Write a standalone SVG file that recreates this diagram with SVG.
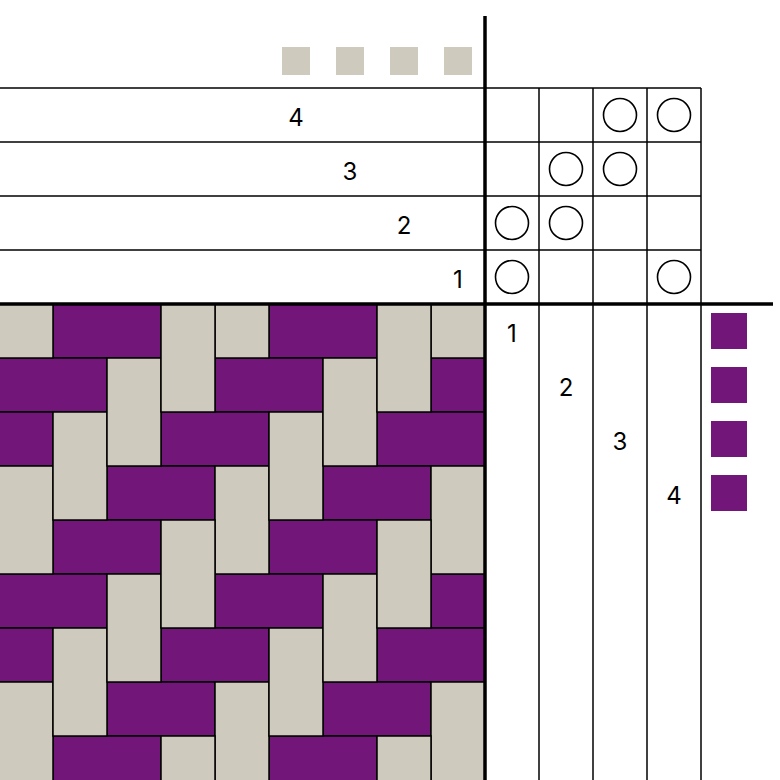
<svg xmlns="http://www.w3.org/2000/svg" width="780" height="780" viewBox="0 0 780 780">
<style>
.bg{fill:#ffffff}
.ln{stroke:#000;stroke-width:1.5;fill:none}
.thick{stroke:#000;stroke-width:3.5;fill:none}
.p{fill:#72167a;stroke:#000;stroke-width:1.5}
.g{fill:#cecabd;stroke:#000;stroke-width:1.5}
.ps{fill:#72167a}
.gs{fill:#cecabd}
.c{fill:none;stroke:#000;stroke-width:1.6}
.t{font-family:Inter,"Liberation Sans",Arial,sans-serif;font-size:24px;fill:#000;text-anchor:middle}
</style>
<rect class="bg" x="0" y="0" width="780" height="780"/>
<g id="drawdown">
<g id="weft-floats">
<rect class="p" x="53" y="304" width="108" height="54"/><rect class="p" x="269" y="304" width="108" height="54"/>
<rect class="p" x="-1" y="358" width="108" height="54"/><rect class="p" x="215" y="358" width="108" height="54"/><rect class="p" x="431" y="358" width="54" height="54"/>
<rect class="p" x="-1" y="412" width="54" height="54"/><rect class="p" x="161" y="412" width="108" height="54"/><rect class="p" x="377" y="412" width="108" height="54"/>
<rect class="p" x="107" y="466" width="108" height="54"/><rect class="p" x="323" y="466" width="108" height="54"/>
<rect class="p" x="53" y="520" width="108" height="54"/><rect class="p" x="269" y="520" width="108" height="54"/>
<rect class="p" x="-1" y="574" width="108" height="54"/><rect class="p" x="215" y="574" width="108" height="54"/><rect class="p" x="431" y="574" width="54" height="54"/>
<rect class="p" x="-1" y="628" width="54" height="54"/><rect class="p" x="161" y="628" width="108" height="54"/><rect class="p" x="377" y="628" width="108" height="54"/>
<rect class="p" x="107" y="682" width="108" height="54"/><rect class="p" x="323" y="682" width="108" height="54"/>
<rect class="p" x="53" y="736" width="108" height="54"/><rect class="p" x="269" y="736" width="108" height="54"/>
</g>
<g id="warp-floats">
<rect class="g" x="-1" y="304" width="54" height="54"/><rect class="g" x="-1" y="466" width="54" height="108"/><rect class="g" x="-1" y="682" width="54" height="108"/>
<rect class="g" x="215" y="304" width="54" height="54"/><rect class="g" x="215" y="466" width="54" height="108"/><rect class="g" x="215" y="682" width="54" height="108"/>
<rect class="g" x="431" y="304" width="54" height="54"/><rect class="g" x="431" y="466" width="54" height="108"/><rect class="g" x="431" y="682" width="54" height="108"/>
<rect class="g" x="53" y="412" width="54" height="108"/><rect class="g" x="53" y="628" width="54" height="108"/>
<rect class="g" x="269" y="412" width="54" height="108"/><rect class="g" x="269" y="628" width="54" height="108"/>
<rect class="g" x="107" y="358" width="54" height="108"/><rect class="g" x="107" y="574" width="54" height="108"/>
<rect class="g" x="323" y="358" width="54" height="108"/><rect class="g" x="323" y="574" width="54" height="108"/>
<rect class="g" x="161" y="304" width="54" height="108"/><rect class="g" x="161" y="520" width="54" height="108"/><rect class="g" x="161" y="736" width="54" height="54"/>
<rect class="g" x="377" y="304" width="54" height="108"/><rect class="g" x="377" y="520" width="54" height="108"/><rect class="g" x="377" y="736" width="54" height="54"/>
</g>
</g>
<g id="warp-colors">
<rect class="gs" x="282" y="47" width="28" height="28"/>
<rect class="gs" x="336" y="47" width="28" height="28"/>
<rect class="gs" x="390" y="47" width="28" height="28"/>
<rect class="gs" x="444" y="47" width="28" height="28"/>
</g>
<g id="weft-colors">
<rect class="ps" x="711" y="313" width="36" height="36"/>
<rect class="ps" x="711" y="367" width="36" height="36"/>
<rect class="ps" x="711" y="421" width="36" height="36"/>
<rect class="ps" x="711" y="475" width="36" height="36"/>
</g>
<g id="grid-lines">
<line class="ln" x1="0" y1="88" x2="701" y2="88"/>
<line class="ln" x1="0" y1="142" x2="701" y2="142"/>
<line class="ln" x1="0" y1="196" x2="701" y2="196"/>
<line class="ln" x1="0" y1="250" x2="701" y2="250"/>
<line class="ln" x1="539" y1="88" x2="539" y2="780"/>
<line class="ln" x1="593" y1="88" x2="593" y2="780"/>
<line class="ln" x1="647" y1="88" x2="647" y2="780"/>
<line class="ln" x1="701" y1="88" x2="701" y2="780"/>
<line class="thick" x1="485" y1="16" x2="485" y2="780"/>
<line class="thick" x1="0" y1="304" x2="773" y2="304"/>
</g>
<g id="threading">
<text class="t" x="296" y="126">4</text>
<text class="t" x="350" y="180">3</text>
<text class="t" x="404" y="234">2</text>
<text class="t" x="458" y="288">1</text>
</g>
<g id="tieup">
<circle class="c" cx="620" cy="115" r="16.5"/><circle class="c" cx="674" cy="115" r="16.5"/>
<circle class="c" cx="566" cy="169" r="16.5"/><circle class="c" cx="620" cy="169" r="16.5"/>
<circle class="c" cx="512" cy="223" r="16.5"/><circle class="c" cx="566" cy="223" r="16.5"/>
<circle class="c" cx="512" cy="277" r="16.5"/><circle class="c" cx="674" cy="277" r="16.5"/>
</g>
<g id="treadling">
<text class="t" x="512" y="342">1</text>
<text class="t" x="566" y="396">2</text>
<text class="t" x="620" y="450">3</text>
<text class="t" x="674" y="504">4</text>
</g>
</svg>
